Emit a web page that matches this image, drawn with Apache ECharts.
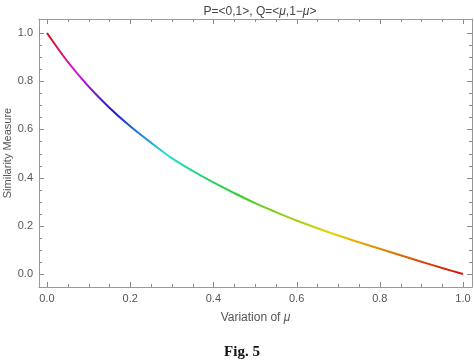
<!DOCTYPE html>
<html><head><meta charset="utf-8">
<script src="https://cdn.jsdelivr.net/npm/echarts@6/dist/echarts.min.js"></script>
<style>html,body{margin:0;padding:0;background:#fff}#c{width:474px;height:360px}</style>
</head><body><div id="c"></div>
<script>
const mu = [0, 0.05, 0.1, 0.15, 0.2, 0.25, 0.3, 0.35, 0.4, 0.45, 0.5, 0.55, 0.6, 0.65, 0.7, 0.75, 0.8, 0.85, 0.9, 0.95, 1.0];
const similarity = [1.0, 0.88, 0.778, 0.69, 0.613, 0.545, 0.481, 0.428, 0.38, 0.336, 0.294, 0.257, 0.222, 0.19, 0.16, 0.132, 0.105, 0.078, 0.051, 0.025, 0.0];
const majorTicks = [0, 0.2, 0.4, 0.6, 0.8, 1.0];
const minorTicks = [0.05, 0.1, 0.15, 0.25, 0.3, 0.35, 0.45, 0.5, 0.55, 0.65, 0.7, 0.75, 0.85, 0.9, 0.95];
const axisMin = 0, axisMax = 1, tickStep = 0.2;
const hueColors = ['#d40f0f', '#e6d200', '#2ecc2e', '#1ee0e0', '#1a1ad0', '#d21ed2', '#d40f0f'];

const W = 474, H = 360;
const data = { l: 47, r: 463, t: 33, b: 274 };
const frame = { l: 39, r: 472, t: 19, b: 287 };

const frameColor = '#999999';
const tickColor = '#8a8a8a';
const labelColor = '#555';
const font = 'Liberation Sans, Arial, sans-serif';

function valueAxis(gridIndex, position, offset, showLabel) {
  return {
    type: 'value', gridIndex: gridIndex, min: axisMin, max: axisMax, interval: tickStep,
    position: position, offset: offset,
    axisLine: { show: false, onZero: false },
    axisTick: { show: false },
    minorTick: { show: false },
    axisLabel: showLabel ? { show: true, formatter: v => v.toFixed(1), color: labelColor, fontSize: 11, fontFamily: font, margin: 6, showMinLabel: true, showMaxLabel: true } : { show: false },
    splitLine: { show: false }, minorSplitLine: { show: false }
  };
}

const dw = data.r - data.l, dh = data.b - data.t;
const fx0 = axisMin - (data.l - frame.l) / dw * (axisMax - axisMin);
const fx1 = axisMax + (frame.r - data.r) / dw * (axisMax - axisMin);
const fy0 = axisMin - (frame.b - data.b) / dh * (axisMax - axisMin);
const fy1 = axisMax + (data.t - frame.t) / dh * (axisMax - axisMin);
function frameAxis(position, min, max) {
  return {
    type: 'value', gridIndex: 1, min: min, max: max, position: position,
    axisLine: { show: true, onZero: false, lineStyle: { color: frameColor, width: 1 } },
    axisTick: { show: false }, axisLabel: { show: false }, splitLine: { show: false }
  };
}

const textEls = [
  {
    type: 'text', x: 8, y: (frame.t + frame.b) / 2, rotation: Math.PI / 2,
    style: { text: 'Similarity Measure', fill: labelColor, font: '11px ' + font, align: 'center', verticalAlign: 'middle', textAlign: 'center', textVerticalAlign: 'middle' }
  },
  {
    type: 'text', x: (frame.l + frame.r) / 2, y: 318,
    style: {
      text: '{n|Variation of }{i|μ}', align: 'center', verticalAlign: 'middle', textAlign: 'center', textVerticalAlign: 'middle',
      rich: {
        n: { fontSize: 12, fill: labelColor, color: labelColor, fontFamily: font },
        i: { fontSize: 12, fill: labelColor, color: labelColor, fontFamily: font, fontStyle: 'italic' }
      }
    }
  }
];

const chart = echarts.init(document.getElementById('c'), null, { renderer: 'canvas' });
chart.setOption({
  animation: false,
  backgroundColor: '#fff',
  title: [
    {
      text: '{a|P=<0,1>, Q=<}{i|μ}{a|,1−}{i|μ}{a|>}',
      left: 255, top: 1, textAlign: 'center',
      textStyle: { fontWeight: 'normal', rich: {
        a: { fontSize: 12, color: '#444', fontFamily: font, fontWeight: 'normal' },
        i: { fontSize: 12, color: '#444', fontFamily: font, fontStyle: 'italic', fontWeight: 'normal' }
      } }
    },
    {
      text: 'Fig. 5', left: 237, top: 340, textAlign: 'center',
      textStyle: { fontSize: 15, fontWeight: 'bold', color: '#111', fontFamily: 'Liberation Serif, Times New Roman, serif' }
    }
  ],
  graphic: { elements: textEls },
  grid: [
    { left: data.l, right: W - data.r, top: data.t, bottom: H - data.b, containLabel: false, outerBoundsMode: 'none' },
    { left: frame.l, right: W - frame.r, top: frame.t, bottom: H - frame.b, containLabel: false, outerBoundsMode: 'none' }
  ],
  xAxis: [
    valueAxis(0, 'bottom', frame.b - data.b, true),
    frameAxis('bottom', fx0, fx1),
    frameAxis('top', fx0, fx1)
  ],
  yAxis: [
    valueAxis(0, 'left', data.l - frame.l, true),
    frameAxis('left', fy0, fy1),
    frameAxis('right', fy0, fy1)
  ],
  visualMap: {
    show: false, type: 'continuous', dimension: 1, min: 0, max: 1, seriesIndex: 0,
    inRange: { color: hueColors }
  },
  series: [{
    type: 'line', xAxisIndex: 0, yAxisIndex: 0,
    data: mu.map((m, i) => [m, similarity[i]]),
    smooth: 0.3, showSymbol: false, symbol: 'none', clip: false,
    lineStyle: { width: 2 }
  }]
});

// frame ticks, positioned through the library's axis scales
const tickEls = [];
function addTicks(values, len) {
  values.forEach(v => {
    const px = Math.round(chart.convertToPixel({ xAxisIndex: 0 }, v)) + 0.5;
    const py = Math.round(chart.convertToPixel({ yAxisIndex: 0 }, v)) + 0.5;
    const st = { stroke: tickColor, lineWidth: 1 };
    tickEls.push({ type: 'line', silent: true, shape: { x1: px, y1: frame.b, x2: px, y2: frame.b - len }, style: st });
    tickEls.push({ type: 'line', silent: true, shape: { x1: px, y1: frame.t, x2: px, y2: frame.t + len }, style: st });
    tickEls.push({ type: 'line', silent: true, shape: { x1: frame.l, y1: py, x2: frame.l + len, y2: py }, style: st });
    tickEls.push({ type: 'line', silent: true, shape: { x1: frame.r, y1: py, x2: frame.r - len, y2: py }, style: st });
  });
}
addTicks(majorTicks, 5);
addTicks(minorTicks, 3);
chart.setOption({ graphic: { elements: textEls.concat(tickEls) } });
</script>
</body></html>
